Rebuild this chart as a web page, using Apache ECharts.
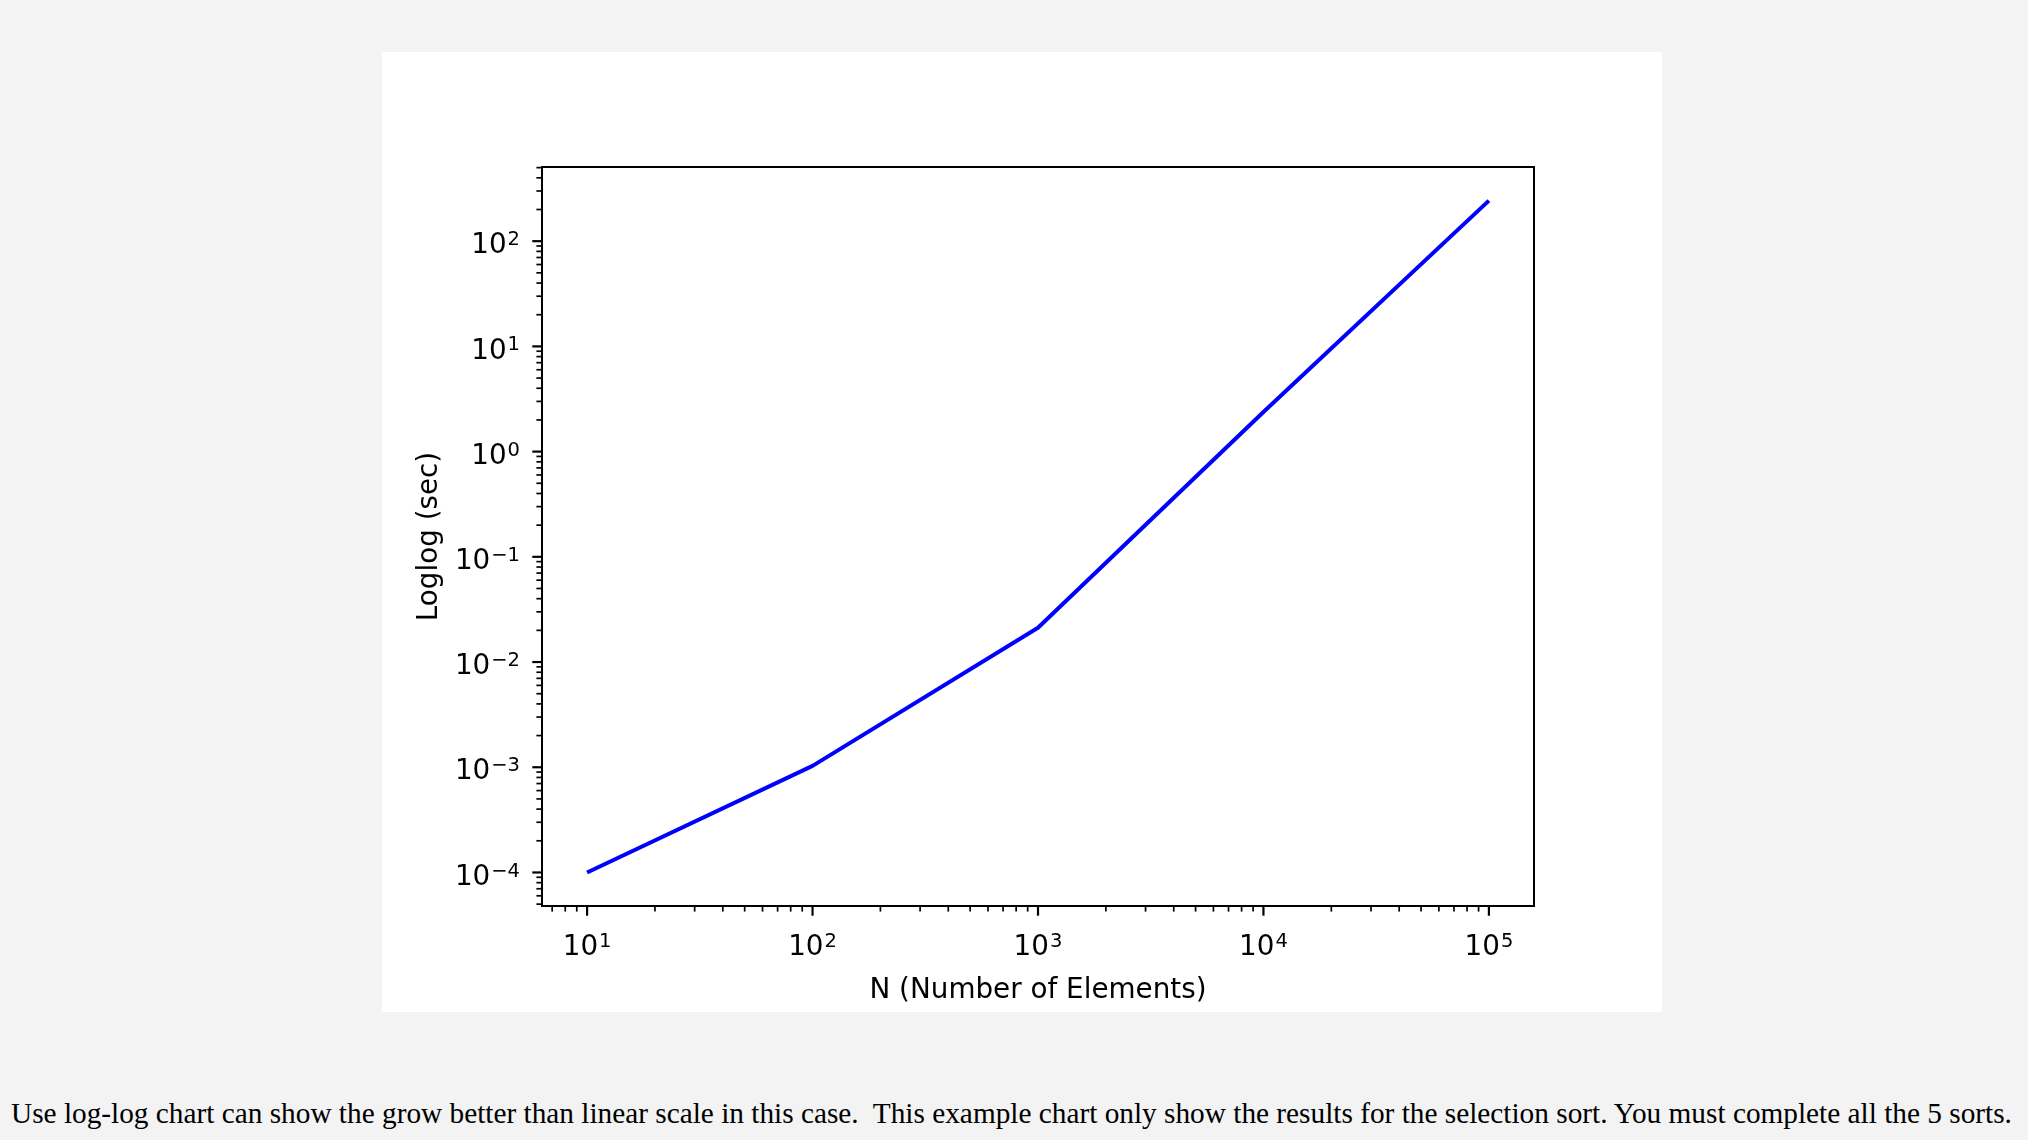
<!DOCTYPE html>
<html>
<head>
<meta charset="utf-8">
<title>Selection sort log-log</title>
<script src="https://cdn.jsdelivr.net/npm/echarts@6/dist/echarts.min.js"></script>
<style>
  html, body { margin: 0; padding: 0; }
  body { width: 2028px; height: 1140px; background: #f3f3f3; position: relative; overflow: hidden; }
  #chart { position: absolute; left: 382px; top: 52px; width: 1280px; height: 960px; background: #fff; }
  #note {
    position: absolute; left: 11px; top: 1099px;
    font-family: "Liberation Serif", "Times New Roman", serif;
    font-size: 29.3px; line-height: 29.3px; color: #000; white-space: pre;
  }
</style>
</head>
<body>
<div id="chart"></div>
<div id="note">Use log-log chart can show the grow better than linear scale in this case.  This example chart only show the results for the selection sort. You must complete all the 5 sorts.</div>
<script>
// N values and measured run times (sec) of the selection sort
var nValues = [10, 100, 1000, 10000, 100000]
var selectionSec = [0.0001, 0.00103, 0.0212, 2.38, 243]

// axis ranges (matplotlib-style 5% margin in log space)
var xMin = 6.31
var xMax = 158500
var yMin = 4.8e-5
var yMax = 507

// tick decades and minor multipliers
var xDecades = [1, 10, 100, 1000, 10000, 100000]
var yDecades = [1e-5, 1e-4, 1e-3, 1e-2, 1e-1, 1, 10, 100]
var xMajor = [10, 100, 1000, 10000, 100000]
var yMajor = [1e-4, 1e-3, 1e-2, 1e-1, 1, 10, 100]
var minorSteps = [2, 3, 4, 5, 6, 7, 8, 9]

function minorOf(decades, lo, hi) {
  var out = []
  decades.forEach(function(d) {
    minorSteps.forEach(function(m) {
      var v = d * m
      if (v >= lo && v <= hi) out.push(v)
    })
  })
  return out
}

var font = 'DejaVu Sans'
var fs = 27.8

function powLabel(value) {
  var e = Math.round(Math.log(value) / Math.LN10)
  var s = e < 0 ? '\u2212' + Math.abs(e) : String(e)
  return '{b|10}{s|' + s + '}'
}
// "10" sits a bit below the tick, exponent raised like mathtext
var richLabel = {
  b: { fontFamily: font, fontSize: fs, lineHeight: 30, padding: [10, 0, 0, 0], color: '#000' },
  s: { fontFamily: font, fontSize: 19.5, lineHeight: 17, padding: [5, 0, 7, 1], color: '#000' }
}

// tick marks drawn through the axis scales (api.coord)
function tickSeries(values, isX, len, width) {
  return {
    type: 'custom',
    silent: true,
    clip: false,
    z: 5,
    data: values.map(function(v) { return isX ? [v, yMin] : [xMin, v] }),
    renderItem: function(params, api) {
      var cs = params.coordSys
      var p = api.coord([api.value(0), api.value(1)])
      var shape
      if (isX) {
        var yb = cs.y + cs.height
        shape = { x1: p[0], y1: yb, x2: p[0], y2: yb + len }
      } else {
        shape = { x1: cs.x, y1: p[1], x2: cs.x - len, y2: p[1] }
      }
      return { type: 'line', shape: shape, style: { stroke: '#000', lineWidth: width } }
    }
  }
}

var chart = echarts.init(document.getElementById('chart'))
chart.setOption({
  animation: false,
  grid: {
    left: 160,
    top: 115,
    width: 992,
    height: 739,
    show: true,
    backgroundColor: '#fff',
    borderColor: '#000',
    borderWidth: 2
  },
  xAxis: {
    type: 'log',
    logBase: 10,
    min: xMin,
    max: xMax,
    name: 'N (Number of Elements)',
    nameLocation: 'middle',
    nameGap: 71,
    nameTextStyle: { fontFamily: font, fontSize: fs, color: '#000' },
    axisLine: { show: false },
    axisTick: { show: false },
    splitLine: { show: false },
    axisLabel: {
      margin: 22,
      showMinLabel: false,
      showMaxLabel: false,
      formatter: powLabel,
      rich: richLabel
    }
  },
  yAxis: {
    type: 'log',
    logBase: 10,
    min: yMin,
    max: yMax,
    name: 'Loglog (sec)',
    nameLocation: 'middle',
    nameGap: 98,
    nameTextStyle: { fontFamily: font, fontSize: fs, color: '#000' },
    axisLine: { show: false },
    axisTick: { show: false },
    splitLine: { show: false },
    axisLabel: {
      margin: 22,
      showMinLabel: false,
      showMaxLabel: false,
      formatter: powLabel,
      rich: richLabel
    }
  },
  series: [
    {
      type: 'line',
      data: nValues.map(function(n, i) { return [n, selectionSec[i]] }),
      showSymbol: false,
      symbol: 'none',
      lineStyle: { color: '#0000ff', width: 4 },
      itemStyle: { color: '#0000ff' },
      z: 3
    },
    tickSeries(xMajor, true, 9.7, 2.2),
    tickSeries(minorOf(xDecades, xMin, xMax), true, 5.6, 1.7),
    tickSeries(yMajor, false, 9.7, 2.2),
    tickSeries(minorOf(yDecades, yMin, yMax), false, 5.6, 1.7)
  ]
})
</script>
</body>
</html>
